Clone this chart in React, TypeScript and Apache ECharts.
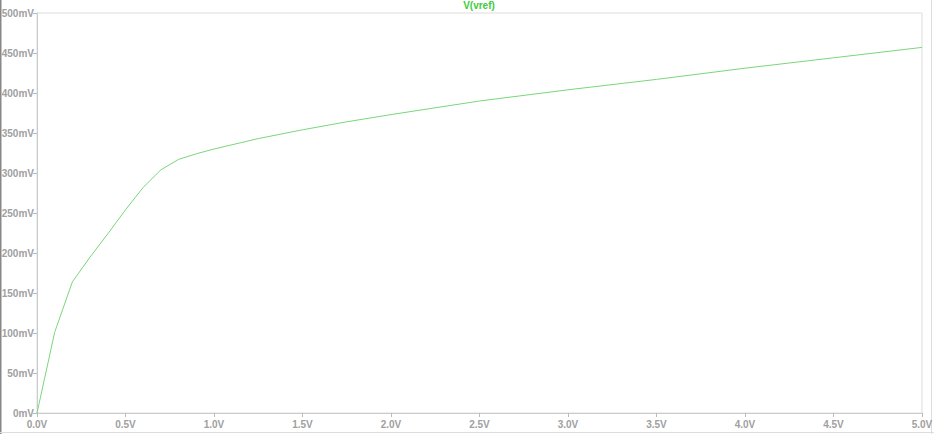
import React, { useEffect, useRef } from 'react';
import * as echarts from 'echarts';

// sweep voltage (V) and V(vref) (mV)
const sweepV = [0, 0.1, 0.2, 0.3, 0.4, 0.5, 0.6, 0.7, 0.8, 0.9, 1.0, 1.25, 1.5, 1.75, 2.0, 2.5, 3.0, 3.5, 4.0, 4.5, 5.0];
const vrefMv = [0, 101, 164, 195, 224, 254, 282, 304, 317, 324, 330, 343, 354, 364, 373, 390, 404, 417, 431, 444, 457];
const seriesName = 'V(vref)';

const App: React.FC = () => {
  const chartRef = useRef<HTMLDivElement | null>(null);

  useEffect(() => {
    if (!chartRef.current) return;
    const chart = echarts.init(chartRef.current, undefined, { renderer: 'svg' });

    const option: echarts.EChartsOption = {
      animation: false,
      backgroundColor: '#fff',
      title: {
        text: seriesName,
        left: 479,
        top: 0,
        padding: 0,
        textAlign: 'center',
        textStyle: { color: '#3ccc3c', fontSize: 10, fontWeight: 'bold', fontFamily: 'Liberation Sans' },
      },
      grid: {
        left: 37,
        right: 12,
        top: 13,
        bottom: 21,
        show: true,
        borderColor: '#ddd',
        borderWidth: 1,
        outerBoundsMode: 'none',
        containLabel: false,
      } as any,
      xAxis: {
        type: 'value',
        min: 0,
        max: 5,
        interval: 0.5,
        axisLine: { show: true, lineStyle: { color: '#ccc' } },
        axisTick: { show: true, length: 4, lineStyle: { color: '#bbb' } },
        splitLine: { show: false },
        axisLabel: {
          color: '#a0a0a0',
          fontSize: 10,
          fontWeight: 'bold',
          fontFamily: 'Liberation Sans',
          margin: 6,
          formatter: (v: number) => v.toFixed(1) + 'V',
        },
      },
      yAxis: {
        type: 'value',
        min: 0,
        max: 500,
        interval: 50,
        axisLine: { show: true, lineStyle: { color: '#ccc' } },
        axisTick: { show: true, length: 4, lineStyle: { color: '#bbb' } },
        splitLine: { show: false },
        axisLabel: {
          color: '#a0a0a0',
          fontSize: 10,
          fontWeight: 'bold',
          fontFamily: 'Liberation Sans',
          margin: 3,
          formatter: (v: number) => v + 'mV',
        },
      },
      graphic: [
        { type: 'rect', shape: { x: 0, y: 0, width: 1.5, height: 434 }, style: { fill: '#888' } },
        { type: 'line', shape: { x1: 931.5, y1: 0, x2: 931.5, y2: 434 }, style: { stroke: '#ddd', lineWidth: 1 } },
        { type: 'line', shape: { x1: 0, y1: 432.5, x2: 934, y2: 432.5 }, style: { stroke: '#ddd', lineWidth: 1 } },
      ],
      series: [
        {
          name: seriesName,
          type: 'line',
          data: sweepV.map((v, i) => [v, vrefMv[i]]),
          showSymbol: false,
          lineStyle: { color: '#7bd67b', width: 1 },
        },
      ],
    };

    chart.setOption(option);
    return () => {
      chart.dispose();
    };
  }, []);

  return <div ref={chartRef} style={{ position: 'fixed', left: 0, top: 0, width: 934, height: 434 }} />;
};

export default App;
